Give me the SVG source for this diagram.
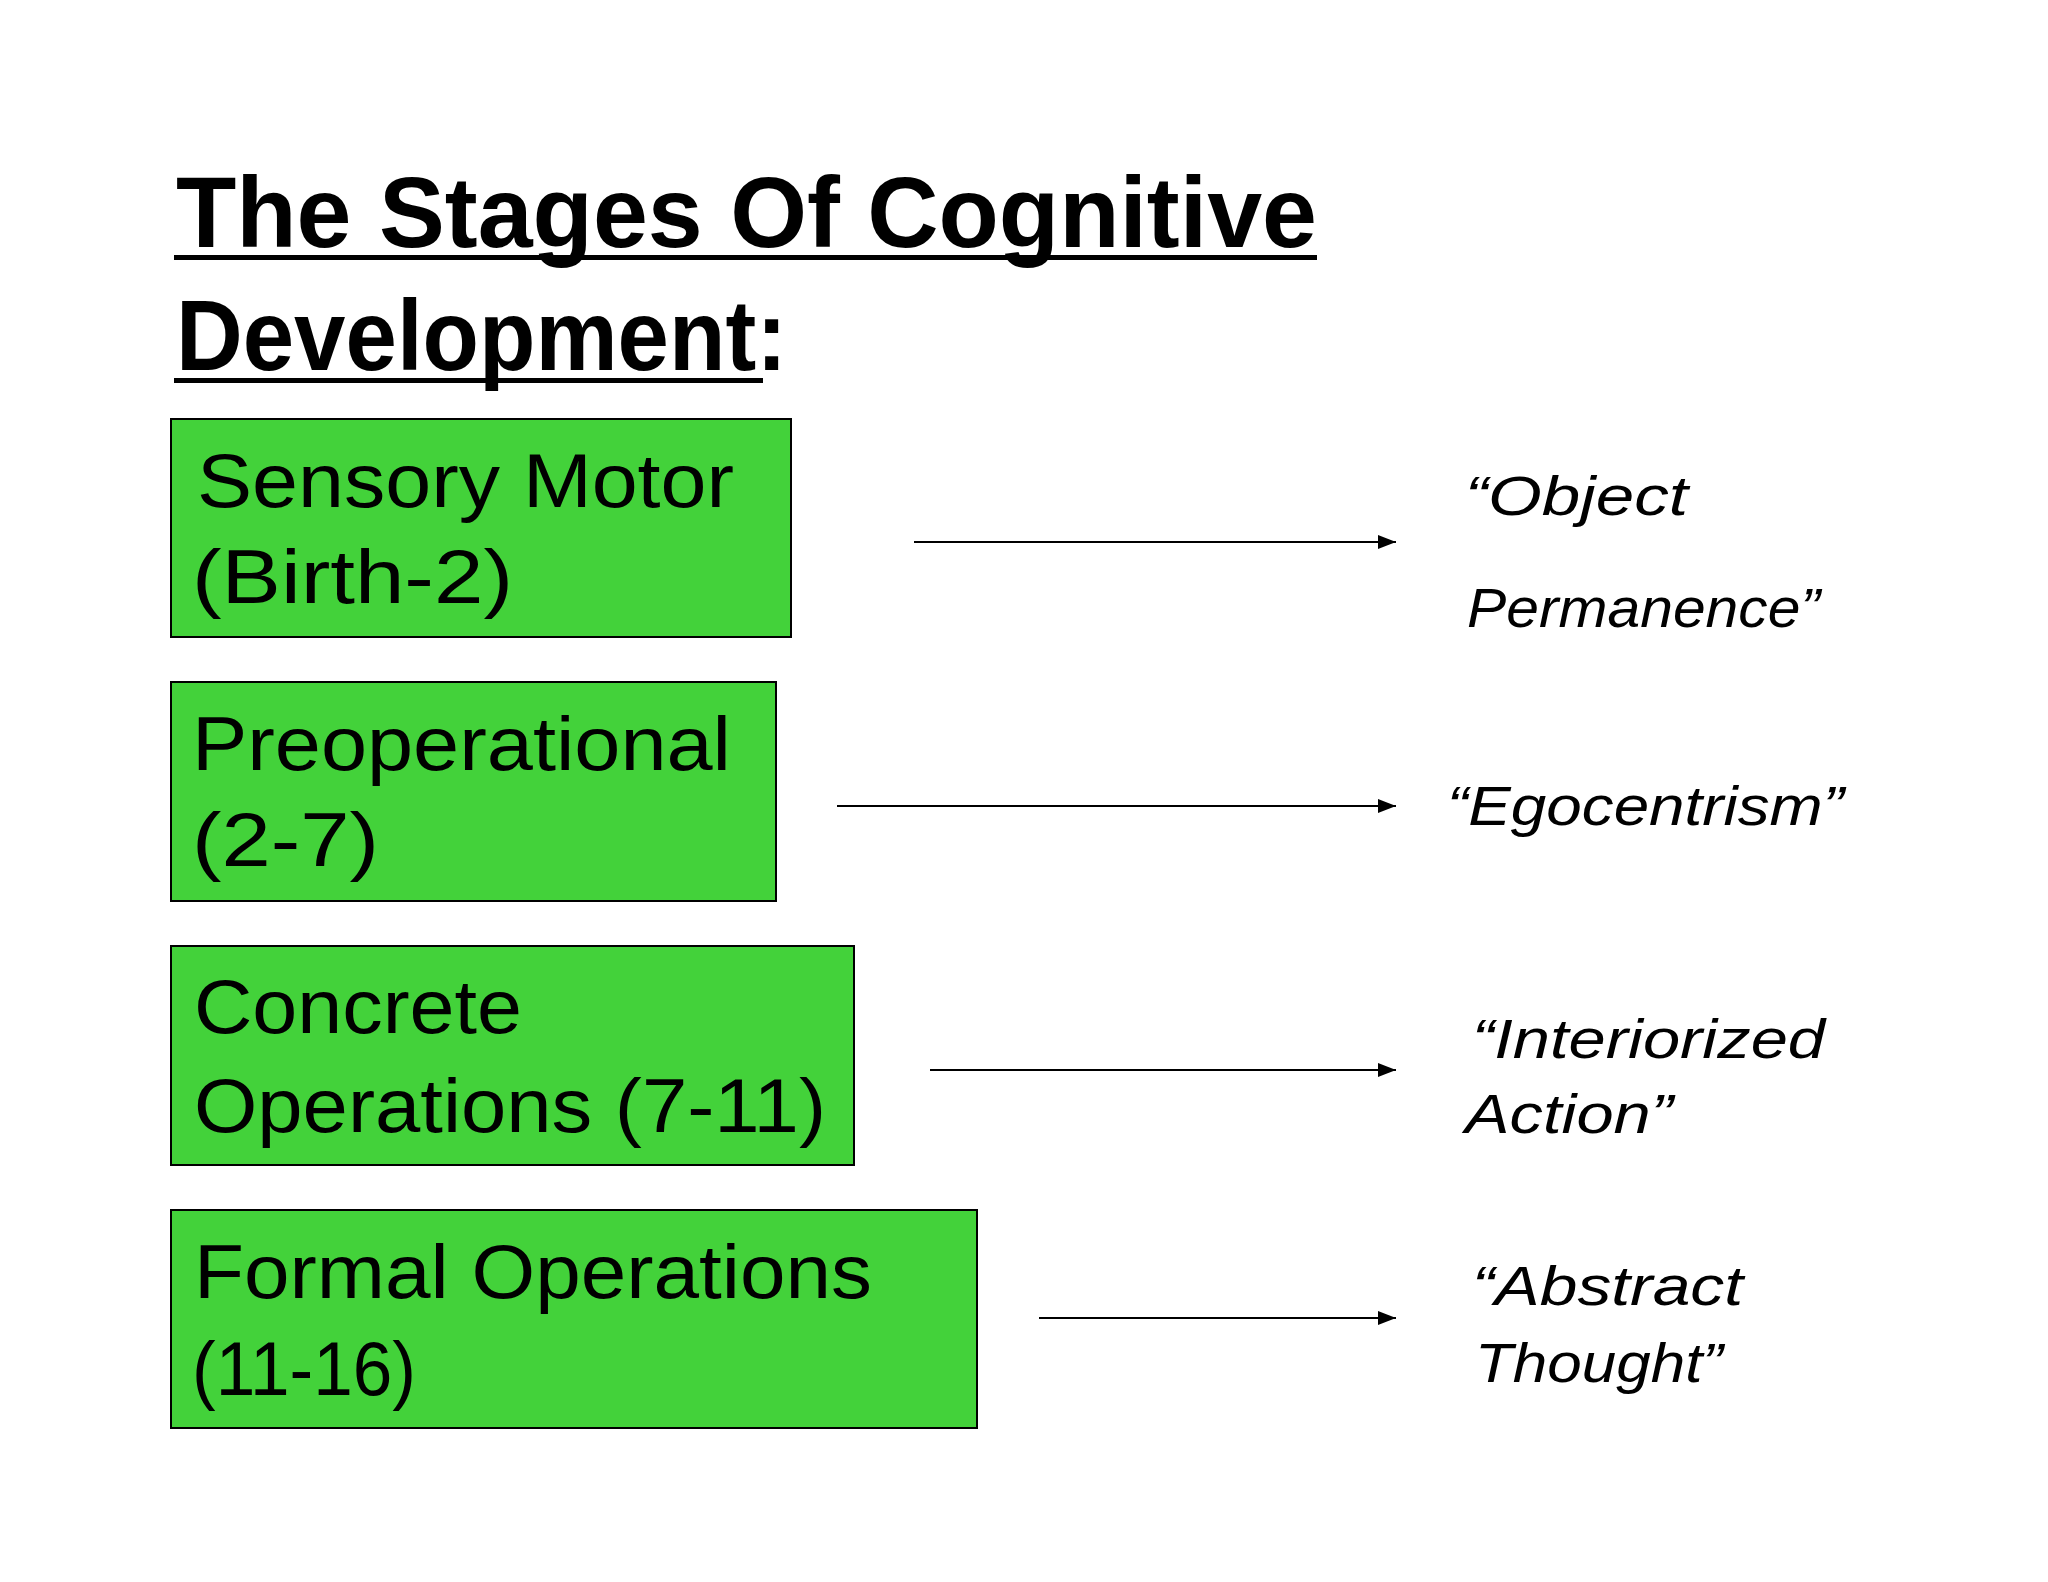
<svg xmlns="http://www.w3.org/2000/svg" width="2048" height="1582" viewBox="0 0 2048 1582">
<defs>
<style>
.title{font-family:"Liberation Sans",Arial,sans-serif;font-weight:bold;font-size:100px;fill:#000}
.box{fill:#43d23a;stroke:#000;stroke-width:2}
.lbl{font-family:"Liberation Sans",Arial,sans-serif;font-size:76px;fill:#000}
.note{font-family:"Liberation Sans",Arial,sans-serif;font-style:italic;font-size:56px;fill:#000}
.conn{stroke:#000;stroke-width:2;fill:none}
</style>
<marker id="arr" markerWidth="18" markerHeight="14" refX="18" refY="7" orient="auto" markerUnits="userSpaceOnUse" viewBox="0 0 18 14">
<path d="M0,0 L18,7 L0,14 Z" fill="#000"/>
</marker>
</defs>
<rect width="2048" height="1582" fill="#fff"/>
<g id="title">
<text class="title" x="176" y="247" textLength="1141" lengthAdjust="spacingAndGlyphs">The Stages Of Cognitive</text>
<rect x="174" y="255" width="1143" height="5" fill="#000"/>
<text class="title" x="176" y="370" textLength="611" lengthAdjust="spacingAndGlyphs">Development:</text>
<rect x="174" y="378" width="589" height="5" fill="#000"/>
</g>
<g id="node-sensory">
<rect class="box" x="171" y="419" width="620" height="218"/>
<text class="lbl" x="197" y="507" textLength="537" lengthAdjust="spacingAndGlyphs">Sensory Motor</text>
<text class="lbl" x="192" y="603" textLength="321" lengthAdjust="spacingAndGlyphs">(Birth-2)</text>
</g>
<g id="node-preop">
<rect class="box" x="171" y="682" width="605" height="219"/>
<text class="lbl" x="192" y="770" textLength="539" lengthAdjust="spacingAndGlyphs">Preoperational</text>
<text class="lbl" x="192" y="866" textLength="187" lengthAdjust="spacingAndGlyphs">(2-7)</text>
</g>
<g id="node-concrete">
<rect class="box" x="171" y="946" width="683" height="219"/>
<text class="lbl" x="194" y="1033" textLength="328" lengthAdjust="spacingAndGlyphs">Concrete</text>
<text class="lbl" x="194" y="1132" textLength="632" lengthAdjust="spacingAndGlyphs">Operations (7-11)</text>
</g>
<g id="node-formal">
<rect class="box" x="171" y="1210" width="806" height="218"/>
<text class="lbl" x="194" y="1298" textLength="678" lengthAdjust="spacingAndGlyphs">Formal Operations</text>
<text class="lbl" x="192" y="1395" textLength="224" lengthAdjust="spacingAndGlyphs">(11-16)</text>
</g>
<g id="note-object">
<text class="note" x="1465" y="515" textLength="223" lengthAdjust="spacingAndGlyphs">“Object</text>
<text class="note" x="1467" y="627" textLength="353" lengthAdjust="spacingAndGlyphs">Permanence”</text>
</g>
<g id="note-ego">
<text class="note" x="1447" y="825" textLength="397" lengthAdjust="spacingAndGlyphs">“Egocentrism”</text>
</g>
<g id="note-interior">
<text class="note" x="1472" y="1058" textLength="353" lengthAdjust="spacingAndGlyphs">“Interiorized</text>
<text class="note" x="1465" y="1133" textLength="208" lengthAdjust="spacingAndGlyphs">Action”</text>
</g>
<g id="note-abstract">
<text class="note" x="1472" y="1305" textLength="271" lengthAdjust="spacingAndGlyphs">“Abstract</text>
<text class="note" x="1475" y="1382" textLength="248" lengthAdjust="spacingAndGlyphs">Thought”</text>
</g>
<g id="connectors">
<line class="conn" x1="914" y1="542" x2="1396" y2="542" marker-end="url(#arr)"/>
<line class="conn" x1="837" y1="806" x2="1396" y2="806" marker-end="url(#arr)"/>
<line class="conn" x1="930" y1="1070" x2="1396" y2="1070" marker-end="url(#arr)"/>
<line class="conn" x1="1039" y1="1318" x2="1396" y2="1318" marker-end="url(#arr)"/>
</g>
</svg>
